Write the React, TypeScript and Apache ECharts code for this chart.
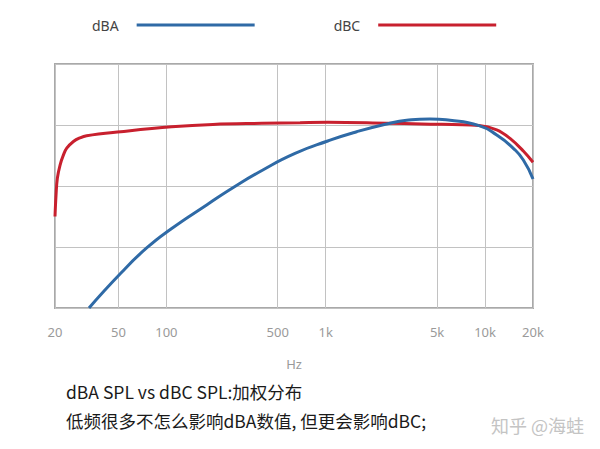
import React, { useEffect, useRef } from "react";
import * as echarts from "echarts";

// Frequency ticks (Hz) and their labels
const tickValues = [20, 50, 100, 500, 1000, 5000, 10000, 20000];
const tickLabels = ["20", "50", "100", "500", "1k", "5k", "10k", "20k"];

// dBC weighting curve
const freqC = [20, 20.3, 20.7, 21.5, 22.6, 23.7, 26.1, 28.7, 31.6, 51.7, 108, 196, 398, 690, 1030, 2420, 4000, 9170, 11840, 14350, 17390, 20000];
const dbC = [-15.0, -11.5, -8.7, -6.6, -4.9, -3.8, -2.7, -2.1, -1.75, -1.1, -0.3, 0.1, 0.28, 0.38, 0.44, 0.28, 0.16, -0.1, -0.8, -2.2, -4.26, -6.1];

// dBA weighting curve
const freqA = [32.7, 51.7, 75.2, 108, 179, 263, 398, 642, 1030, 1565, 2415, 3224, 4513, 6027, 9167, 11840, 15050, 17390, 20000];
const dbA = [-30, -24.31, -20.16, -16.97, -13.11, -10.25, -7.46, -4.67, -2.62, -1.1, 0.16, 0.77, 0.98, 0.77, -0.11, -1.64, -3.82, -5.74, -8.85];

const captionLine1 = "dBA SPL vs dBC SPL:加权分布";
const captionLine2 = "低频很多不怎么影响dBA数值, 但更会影响dBC;";
const watermark = "知乎 @海蛙";

const BLUE = "#2f6aa6";
const RED = "#c8202e";

export default function App() {
  const ref = useRef<HTMLDivElement>(null);
  useEffect(() => {
    if (!ref.current) return;
    const chart = echarts.init(ref.current, undefined, { renderer: "svg" });
    const labelFor = (v: number) => {
      for (let i = 0; i < tickValues.length; i++) {
        if (Math.abs(tickValues[i] - v) / tickValues[i] < 1e-6) return tickLabels[i];
      }
      return "";
    };
    chart.setOption({
      animation: false,
      backgroundColor: "#ffffff",
      legend: {
        left: 87,
        top: 13,
        align: "right",
        icon: "rect",
        itemWidth: 118,
        itemHeight: 3,
        itemGap: 79,
        selectedMode: false,
        textStyle: {
          color: "#444",
          fontSize: 14,
          fontFamily: "Noto Sans",
          padding: [0, 13, 0, 0],
        },
        data: ["dBA", "dBC"],
      },
      grid: {
        left: 55,
        right: 67,
        top: 64,
        bottom: 141,
        show: true,
        borderColor: "#a9a9a9",
        borderWidth: 2,
        backgroundColor: "transparent",
      },
      xAxis: {
        type: "log",
        logBase: 10,
        min: 20,
        max: 20000,
        name: "Hz",
        nameLocation: "middle",
        nameGap: 49,
        nameTextStyle: { color: "#9a9a9a", fontSize: 13, fontFamily: "Noto Sans" },
        axisLine: { show: false },
        axisTick: { show: false, customValues: tickValues },
        splitLine: { show: true, lineStyle: { color: "#c2c2c2", width: 1 } },
        axisLabel: {
          customValues: tickValues,
          formatter: (v: number) => labelFor(v),
          color: "#9a9a9a",
          fontSize: 13,
          fontFamily: "Noto Sans",
          margin: 17,
        },
      },
      yAxis: {
        type: "value",
        min: -30,
        max: 10,
        interval: 10,
        axisLine: { show: false },
        axisTick: { show: false },
        axisLabel: { show: false },
        splitLine: { show: true, lineStyle: { color: "#c2c2c2", width: 1 } },
      },
      graphic: [
        {
          type: "text",
          x: 66,
          y: 391,
          style: {
            text: captionLine1,
            fill: "#1a1a1a",
            fontSize: 17.5,
            fontFamily: "Noto Sans CJK SC",
            verticalAlign: "middle",
          },
        },
        {
          type: "text",
          x: 66,
          y: 420,
          style: {
            text: captionLine2,
            fill: "#1a1a1a",
            fontSize: 17.5,
            fontFamily: "Noto Sans CJK SC",
            verticalAlign: "middle",
          },
        },
        {
          type: "text",
          x: 491,
          y: 425,
          style: {
            text: watermark,
            fill: "#c4c4c4",
            fontSize: 18,
            fontFamily: "Noto Sans CJK SC",
            verticalAlign: "middle",
          },
        },
      ],
      series: [
        {
          name: "dBA",
          type: "line",
          data: freqA.map((f, i) => [f, dbA[i]]),
          showSymbol: false,
          symbol: "none",
          smooth: 0.55,
          clip: true,
          color: BLUE,
          lineStyle: { color: BLUE, width: 3 },
          itemStyle: { color: BLUE },
          z: 3,
        },
        {
          name: "dBC",
          type: "line",
          data: freqC.map((f, i) => [f, dbC[i]]),
          showSymbol: false,
          symbol: "none",
          smooth: 0.4,
          clip: true,
          color: RED,
          lineStyle: { color: RED, width: 3 },
          itemStyle: { color: RED },
          z: 2,
        },
      ],
    });
    return () => chart.dispose();
  }, []);
  return (
    <div
      ref={ref}
      style={{ position: "fixed", left: 0, top: 0, width: 600, height: 449, background: "#fff" }}
    />
  );
}
